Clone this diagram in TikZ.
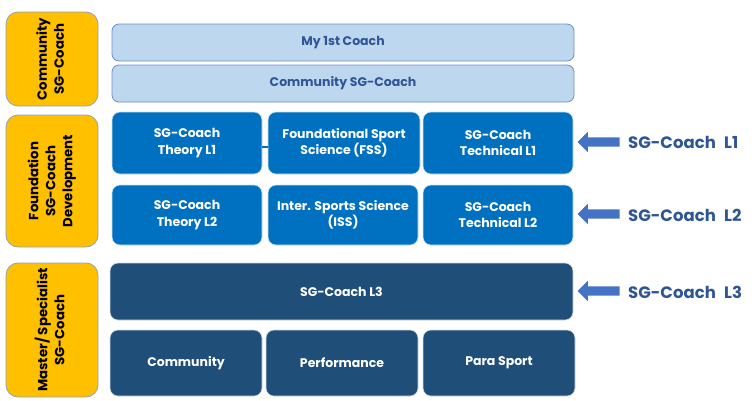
\documentclass[tikz,border=0pt]{standalone}
\usepackage{fontspec}
\setmainfont{Poppins}
\usetikzlibrary{shapes.arrows}
\definecolor{ygold}{HTML}{FFC000}
\definecolor{ltblue}{HTML}{BDD7EE}
\definecolor{ltedge}{HTML}{6E8DC6}
\definecolor{midblue}{HTML}{0070C0}
\definecolor{darkblue}{HTML}{1F4E79}
\definecolor{txtblue}{HTML}{2F5597}
\definecolor{arrblue}{HTML}{4472C4}
\definecolor{edgegray}{HTML}{8EA2C4}
\begin{document}
\begin{tikzpicture}[x=1pt,y=-1pt,
  base/.style={rectangle, inner sep=0pt, align=center, font=\bfseries\fontsize{12.5}{16.5}\selectfont},
  side/.style={base, fill=ygold, draw=edgegray, line width=0.8pt, rounded corners=12pt, text=black, font=\bfseries\fontsize{13.3}{17}\selectfont},
  light/.style={base, fill=ltblue, draw=ltedge, line width=0.8pt, rounded corners=7pt, text=txtblue},
  mid/.style={base, fill=midblue, draw=white!80!midblue, line width=0.6pt, rounded corners=8pt, text=white},
  dark/.style={base, fill=darkblue, draw=white!80!darkblue, line width=0.6pt, rounded corners=8pt, text=white},
  lvlarrow/.style={single arrow, fill=arrblue, draw=none, shape border rotate=180, minimum height=42pt, minimum width=20pt, inner xsep=0pt, inner ysep=4.5pt, single arrow head extend=5.5pt, single arrow tip angle=90},
  lvltext/.style={anchor=west, text=txtblue, font=\bfseries\fontsize{16.5}{20}\selectfont, inner sep=0pt}
]
\useasboundingbox (0,0) rectangle (755,400);
% side boxes
\node[side, minimum width=92pt, minimum height=94pt] (s1) at (52,59) {\rotatebox{90}{\begin{tabular}{@{}c@{}}Community\\SG-Coach\end{tabular}}};
\node[side, minimum width=92pt, minimum height=132pt] (s2) at (52,181) {\rotatebox{90}{\begin{tabular}{@{}c@{}}Foundation\\SG-Coach\\Development\end{tabular}}};
\node[side, minimum width=92pt, minimum height=134pt] (s3) at (52,330) {\rotatebox{90}{\begin{tabular}{@{}c@{}}Master/ Specialist\\SG-Coach\end{tabular}}};
% light boxes
\node[light, minimum width=462pt, minimum height=37pt] (m1) at (343,42.5) {My 1st Coach};
\node[light, minimum width=462pt, minimum height=37pt] (cs) at (343,83.5) {Community SG-Coach};
% mid blue row 1
\node[mid, minimum width=150pt, minimum height=62pt] (t1) at (187,143) {SG-Coach\\Theory L1};
\node[mid, minimum width=152pt, minimum height=62pt] (fss) at (344,143) {Foundational Sport\\Science (FSS)};
\node[mid, minimum width=150pt, minimum height=62pt] (te1) at (498,143) {SG-Coach\\Technical L1};
\draw[draw=midblue, line width=1.5pt] ([yshift=-4pt]t1.east) -- ([yshift=-4pt]fss.west);
% mid blue row 2
\node[mid, minimum width=150pt, minimum height=60pt] (t2) at (187,215) {SG-Coach\\Theory L2};
\node[mid, minimum width=150pt, minimum height=60pt] (iss) at (343,215) {Inter. Sports Science\\(ISS)};
\node[mid, minimum width=150pt, minimum height=60pt] (te2) at (498,215) {SG-Coach\\Technical L2};
% dark
\node[dark, minimum width=463pt, minimum height=57pt] (l3) at (341.5,291.5) {SG-Coach L3};
\node[dark, minimum width=152pt, minimum height=66pt] (co) at (186,363) {Community};
\node[dark, minimum width=152pt, minimum height=66pt] (pe) at (342,363) {Performance};
\node[dark, minimum width=152pt, minimum height=66pt] (ps) at (499,363) {Para Sport};
% arrows and level labels
\node[lvlarrow] (a1) at (601,142) {};
\node[lvlarrow] (a2) at (601,214) {};
\node[lvlarrow] (a3) at (601,291) {};
\node[lvltext] (x1) at (628,142) {SG-Coach\,\,\,L1};
\node[lvltext] (x2) at (628,215) {SG-Coach\,\,\,L2};
\node[lvltext] (x3) at (628,292) {SG-Coach\,\,\,L3};
\end{tikzpicture}
\end{document}
